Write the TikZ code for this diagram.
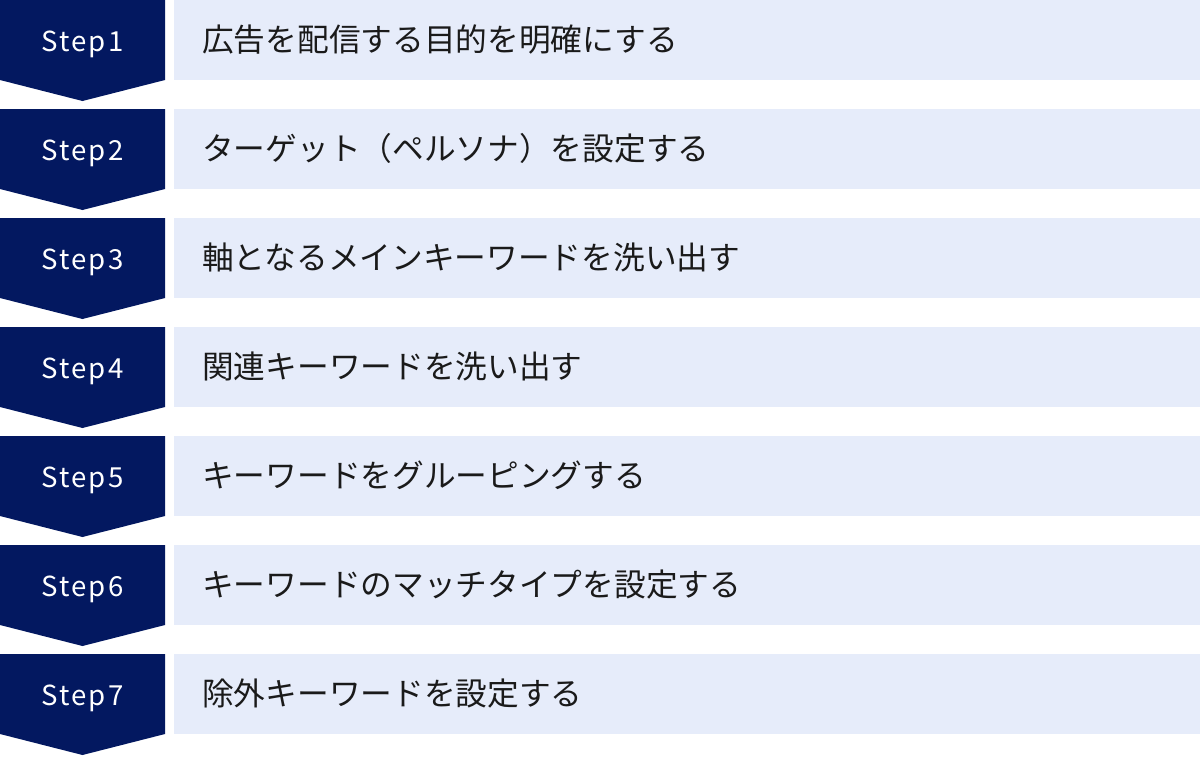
\documentclass[tikz,border=0pt]{standalone}
\usepackage{fontspec}
\usepackage{xcolor}
\usepackage{tikz}

\newfontfamily\jpfont{Noto Sans CJK JP}
\newfontfamily\stepfont[LetterSpace=8]{Noto Sans CJK JP}
\definecolor{stepnavy}{RGB}{3,24,96}
\definecolor{rowblue}{RGB}{230,236,250}
\definecolor{textgray}{RGB}{26,26,26}

\tikzset{
  steplabel/.style={text=white, anchor=base, inner sep=0pt, font=\stepfont\fontsize{27.6}{32}\selectfont},
  rowbox/.style={fill=rowblue, anchor=north west, minimum width=1026pt, minimum height=80pt, inner sep=0pt},
  rowtext/.style={anchor=west, inner sep=0pt, text=textgray, font=\jpfont\fontsize{31.7}{36}\selectfont}
}

\begin{document}
\begin{tikzpicture}[x=1pt, y=-1pt]
        \useasboundingbox (0, 0) rectangle (1200, 756);

        % Step 1
        \fill[stepnavy] (0, 0) -- (165, 0) -- (165, 80) -- (82.5, 101) -- (0, 80) -- cycle;
        \node[steplabel] (s1) at (82.5, 51.5) {Step1};
        \node[rowbox] (r1) at (174, 0) {};
        \node[rowtext] (t1) at ([xshift=28pt, yshift=1pt]r1.west) {広告を配信する目的を明確にする};

        % Step 2
        \fill[stepnavy] (0, 109) -- (165, 109) -- (165, 189) -- (82.5, 210) -- (0, 189) -- cycle;
        \node[steplabel] (s2) at (82.5, 160.5) {Step2};
        \node[rowbox] (r2) at (174, 109) {};
        \node[rowtext] (t2) at ([xshift=28pt, yshift=1pt]r2.west) {ターゲット（ペルソナ）を設定する};

        % Step 3
        \fill[stepnavy] (0, 218) -- (165, 218) -- (165, 298) -- (82.5, 319) -- (0, 298) -- cycle;
        \node[steplabel] (s3) at (82.5, 269.5) {Step3};
        \node[rowbox] (r3) at (174, 218) {};
        \node[rowtext] (t3) at ([xshift=28pt, yshift=1pt]r3.west) {軸となるメインキーワードを洗い出す};

        % Step 4
        \fill[stepnavy] (0, 327) -- (165, 327) -- (165, 407) -- (82.5, 428) -- (0, 407) -- cycle;
        \node[steplabel] (s4) at (82.5, 378.5) {Step4};
        \node[rowbox] (r4) at (174, 327) {};
        \node[rowtext] (t4) at ([xshift=28pt, yshift=1pt]r4.west) {関連キーワードを洗い出す};

        % Step 5
        \fill[stepnavy] (0, 436) -- (165, 436) -- (165, 516) -- (82.5, 537) -- (0, 516) -- cycle;
        \node[steplabel] (s5) at (82.5, 487.5) {Step5};
        \node[rowbox] (r5) at (174, 436) {};
        \node[rowtext] (t5) at ([xshift=28pt, yshift=1pt]r5.west) {キーワードをグルーピングする};

        % Step 6
        \fill[stepnavy] (0, 545) -- (165, 545) -- (165, 625) -- (82.5, 646) -- (0, 625) -- cycle;
        \node[steplabel] (s6) at (82.5, 596.5) {Step6};
        \node[rowbox] (r6) at (174, 545) {};
        \node[rowtext] (t6) at ([xshift=28pt, yshift=1pt]r6.west) {キーワードのマッチタイプを設定する};

        % Step 7
        \fill[stepnavy] (0, 654) -- (165, 654) -- (165, 734) -- (82.5, 755) -- (0, 734) -- cycle;
        \node[steplabel] (s7) at (82.5, 705.5) {Step7};
        \node[rowbox] (r7) at (174, 654) {};
        \node[rowtext] (t7) at ([xshift=28pt, yshift=1pt]r7.west) {除外キーワードを設定する};
    \end{tikzpicture}
\end{document}
